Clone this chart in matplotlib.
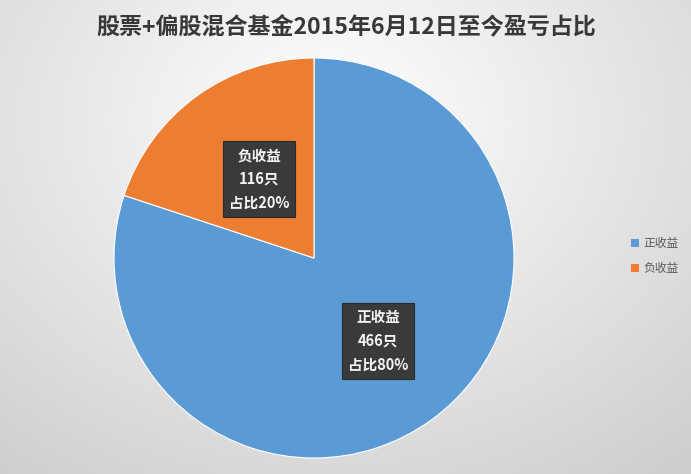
import numpy as np
import matplotlib
matplotlib.use("Agg")
import matplotlib.pyplot as plt
from matplotlib.patches import Patch

plt.rcParams['font.family'] = ['Noto Sans CJK SC', 'DejaVu Sans']

title = "股票+偏股混合基金2015年6月12日至今盈亏占比"
categories = ["正收益", "负收益"]
counts = [466, 116]
percents = ["80%", "20%"]
colors = ["#5b9bd5", "#ed7d31"]

W, H = 691, 474
fig = plt.figure(figsize=(W / 100, H / 100), dpi=100)

# background radial gradient
bg = fig.add_axes([0, 0, 1, 1], zorder=0)
yy, xx = np.mgrid[0:H, 0:W]
d = np.sqrt(((xx - 330) / 520.0) ** 2 + ((yy - 120) / 420.0) ** 2)
v = 1.0 - 0.18 * np.clip(d, 0, 1.3)
img = np.dstack([v, v, v])
bg.imshow(img, aspect='auto', extent=[0, 1, 0, 1], origin='upper')
bg.axis('off')

cx, cy, r = 314, 258, 200
ax = fig.add_axes([(cx - r) / W, (H - cy - r) / H, 2 * r / W, 2 * r / H], zorder=1)
wedges, _ = ax.pie(counts, colors=colors, startangle=90, counterclock=False,
                   wedgeprops=dict(edgecolor='white', linewidth=0.8))
ax.set_aspect('equal')
ax.set_xlim(-1, 1)
ax.set_ylim(-1, 1)

label_pos = [(378, 341), (259, 179)]
for (px, py), cat, n, pct in zip(label_pos, categories, counts, percents):
    fig.text(px / W, 1 - py / H, f"{cat}\n{n}只\n占比{pct}", ha='center', va='center',
             color='#f4f4f4', fontsize=10.5, fontweight='bold', linespacing=1.6,
             zorder=5,
             bbox=dict(boxstyle='square,pad=0.4', facecolor='#3a3a3a',
                       edgecolor='#2a2a2a', linewidth=0.8))

fig.text(346 / W, 1 - 28 / H, title, ha='center', va='center', fontsize=16.6,
         fontweight='bold', color='#383838', zorder=5)

handles = [Patch(facecolor=c, edgecolor='none') for c in colors]
leg = fig.legend(handles, categories, loc='center left',
                 bbox_to_anchor=(620 / W, 1 - 256 / H), frameon=False,
                 fontsize=8.5, handlelength=0.7, handleheight=0.7,
                 handletextpad=0.35, labelspacing=1.0, labelcolor='#595959')

fig.savefig("out.png", dpi=100)
